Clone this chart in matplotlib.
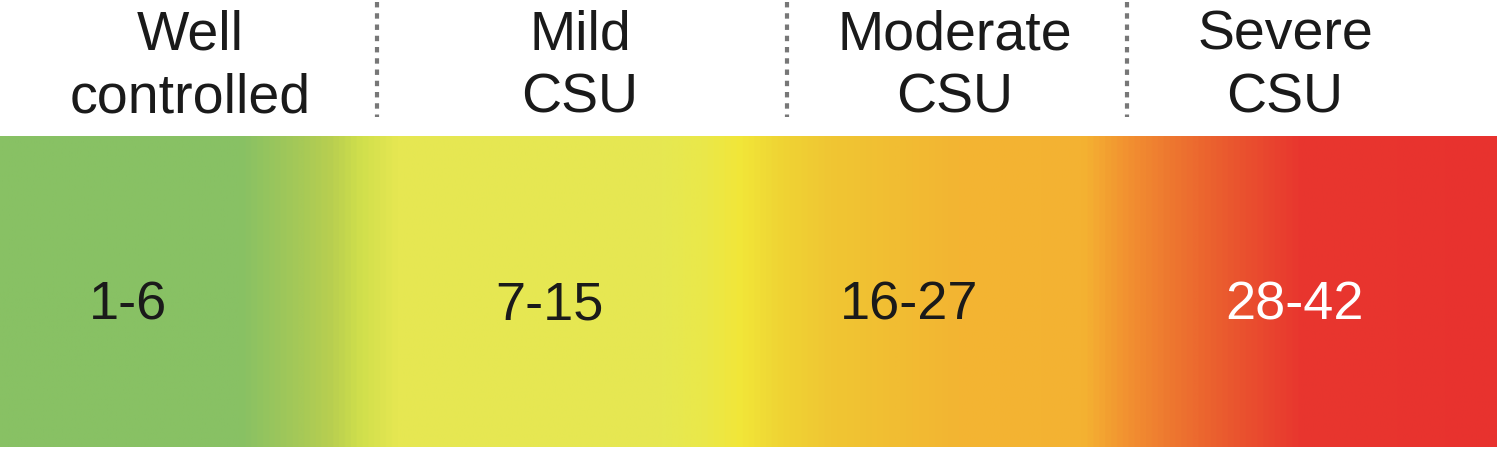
import numpy as np
import matplotlib.pyplot as plt
from matplotlib.colors import LinearSegmentedColormap

# Категории контроля CSU и диапазоны баллов
categories = ['Well\ncontrolled', 'Mild\nCSU', 'Moderate\nCSU', 'Severe\nCSU']
score_ranges = ['1-6', '7-15', '16-27', '28-42']
range_colors = ['#1a1a1a', '#1a1a1a', '#1a1a1a', '#ffffff']

# Опорные точки градиента (доля ширины полосы) и цвета
stop_pos = [0.0, 0.16, 0.20, 0.22, 0.24, 0.265, 0.44, 0.47, 0.495, 0.52, 0.555, 0.64, 0.725, 0.755, 0.78, 0.82, 0.87, 1.0]
stop_colors = ['#88c164', '#88c164', '#a6c957', '#b8cf50', '#d0df4c', '#e6e752', '#e6e852', '#eae84a',
               '#f2e638', '#efd534', '#f0c633', '#f3b532', '#f4b232', '#f29030', '#ee7a30', '#ea5a2e',
               '#e8362f', '#e8322e']

# Центры подписей и границы между зонами (пиксели)
label_x = [190, 580, 955, 1285]
range_x = [128, 549, 909, 1295]
divider_x = [377, 787, 1127]

W, H = 1500, 449
fig = plt.figure(figsize=(W / 100, H / 100), dpi=100)
ax = fig.add_axes([0, 0, 1, 1])
ax.set_xlim(0, W)
ax.set_ylim(H, 0)
ax.axis('off')

cmap = LinearSegmentedColormap.from_list('csu', list(zip(stop_pos, stop_colors)))
grad = np.linspace(0, 1, 1024).reshape(1, -1)
ax.imshow(grad, cmap=cmap, aspect='auto', extent=(0, 1497, 447, 136), interpolation='bilinear')

for x in divider_x:
    ax.plot([x, x], [2, 117], color='#777777', lw=3, linestyle=(0, (1.3, 1.4)), solid_capstyle='butt')

for x, lab in zip(label_x, categories):
    ax.text(x, 67, lab, ha='center', va='center', fontsize=40, family='Liberation Sans',
            color='#1a1a1a', linespacing=1.26)

for x, lab, c in zip(range_x, score_ranges, range_colors):
    ax.text(x, 306, lab, ha='center', va='center', fontsize=39, family='Liberation Sans', color=c)

fig.savefig('out.png', dpi=100)
